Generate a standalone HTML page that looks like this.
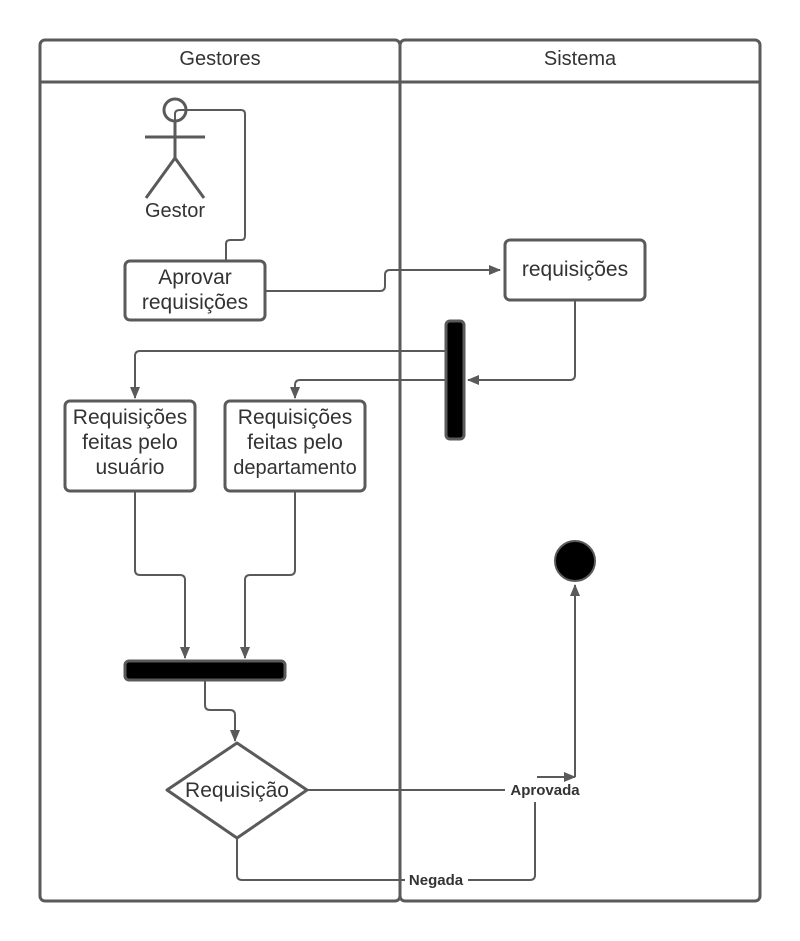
<!DOCTYPE html>
<html><head><meta charset="utf-8"><style>body{margin:0;background:#fff}svg{display:block}text{font-family:"Liberation Sans",sans-serif;fill:#333}</style></head>
<body>
<svg width="800" height="941" viewBox="0 0 800 941" xmlns="http://www.w3.org/2000/svg">
<defs><marker id="a" markerWidth="12" markerHeight="10" refX="11" refY="5" orient="auto" markerUnits="userSpaceOnUse"><path d="M0,0 L12,5 L0,10 z" fill="#5a5a5a"/></marker></defs>
<g stroke="#5a5a5a" stroke-width="3" fill="none">
<rect x="40" y="40" width="360" height="861" rx="5"/>
<rect x="400" y="40" width="360" height="861" rx="5"/>
<line x1="40" y1="82" x2="760" y2="82"/>
</g>
<text x="220" y="65" font-size="20" text-anchor="middle">Gestores</text>
<text x="580" y="65" font-size="20" text-anchor="middle">Sistema</text>
<g stroke="#5a5a5a" stroke-width="2" fill="none">
<g stroke-width="3">
<circle cx="175" cy="110" r="11"/>
<line x1="175" y1="121" x2="175" y2="158"/>
<line x1="145" y1="137" x2="205" y2="137"/>
<line x1="175" y1="158" x2="146" y2="198"/>
<line x1="175" y1="158" x2="204" y2="198"/>
</g>
<path d="M175,122 L175,114 Q175,110 180,110 L241,110 Q245,110 245,114 L245,236 Q245,240 241,240 L230,240 Q226,240 226,244 L226,262"/>
<rect x="125" y="261" width="140" height="59" rx="5" stroke-width="3"/>
<path d="M265,291 L380,291 Q385,291 385,286 L385,275 Q385,270 390,270 L500,270" marker-end="url(#a)"/>
<rect x="505" y="240" width="140" height="60" rx="5" stroke-width="3"/>
<path d="M575,300 L575,375 Q575,380 570,380 L468,380" marker-end="url(#a)"/>
<path d="M446,351 L140,351 Q135,351 135,356 L135,398" marker-end="url(#a)"/>
<path d="M446,380 L300,380 Q295,380 295,385 L295,398" marker-end="url(#a)"/>
<rect x="65" y="401" width="130" height="90" rx="5" stroke-width="3"/>
<rect x="225" y="401" width="140" height="90" rx="5" stroke-width="3"/>
<path d="M135,491 L135,570 Q135,575 140,575 L180,575 Q185,575 185,580 L185,658" marker-end="url(#a)"/>
<path d="M295,491 L295,570 Q295,575 290,575 L250,575 Q245,575 245,580 L245,658" marker-end="url(#a)"/>
<path d="M205,680 L205,705 Q205,710 210,710 L230,710 Q235,710 235,715 L235,741" marker-end="url(#a)"/>
<path d="M237,743 L307,790 L237,838 L167,790 Z" stroke-width="3" stroke-linejoin="round"/>
<path d="M307,790 L505,790"/>
<path d="M537,777 L575,777" marker-end="url(#a)"/>
<path d="M575,777 L575,585" marker-end="url(#a)"/>
<path d="M237,838 L237,875 Q237,880 242,880 L405,880"/>
<path d="M468,880 L530,880 Q535,880 535,875 L535,802"/>
</g>
<rect x="446" y="321" width="18" height="118" rx="4" fill="#000" stroke="#5a5a5a" stroke-width="3"/>
<rect x="125" y="661" width="160" height="19" rx="4" fill="#000" stroke="#5a5a5a" stroke-width="3"/>
<circle cx="575" cy="561" r="20" fill="#000" stroke="#5a5a5a" stroke-width="2"/>
<text x="175" y="217" font-size="20" text-anchor="middle">Gestor</text>
<text x="195" y="284" font-size="21" text-anchor="middle">Aprovar</text>
<text x="195" y="309" font-size="21" text-anchor="middle">requisições</text>
<text x="575" y="276" font-size="21" text-anchor="middle">requisições</text>
<text x="130" y="424" font-size="21" text-anchor="middle">Requisições</text>
<text x="130" y="449" font-size="21" text-anchor="middle">feitas pelo</text>
<text x="130" y="474" font-size="21" text-anchor="middle">usuário</text>
<text x="295" y="424" font-size="21" text-anchor="middle">Requisições</text>
<text x="295" y="449" font-size="21" text-anchor="middle">feitas pelo</text>
<text x="295" y="474" font-size="20" text-anchor="middle">departamento</text>
<text x="237" y="797" font-size="21" text-anchor="middle">Requisição</text>
<text x="545" y="795" font-size="15" font-weight="bold" text-anchor="middle">Aprovada</text>
<text x="436" y="885" font-size="15" font-weight="bold" text-anchor="middle">Negada</text>
</svg>
</body></html>
